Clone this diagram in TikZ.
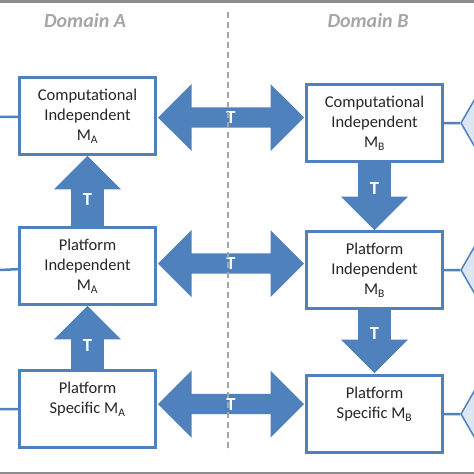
\documentclass[tikz,border=0pt]{standalone}
\usepackage{fontspec}
\setmainfont{Carlito}
\usepackage{tikz}
\usetikzlibrary{shapes,arrows,positioning}
\definecolor{mblue}{HTML}{4F81BD}
\definecolor{hexfill}{HTML}{DCE6F2}
\definecolor{dgray}{HTML}{A6A6A6}
\definecolor{bargray}{HTML}{8C8C8C}

\begin{document}
\begin{tikzpicture}[x=1pt,y=-1pt,node distance=150pt,semithick]
\tikzstyle{model}=[draw=mblue,line width=2.5pt,fill=white,minimum width=136pt,minimum height=77pt,align=center,font=\fontsize{16.5}{20}\selectfont,text=black!85,inner ysep=4pt]
\tikzstyle{twoline}=[text depth=22.4pt]
\tikzstyle{twoway}=[double arrow,fill=mblue,double arrow head extend=14.5pt,minimum width=67pt,minimum height=146pt,inner sep=0pt,text=white,font=\fontsize{18.5}{20}\selectfont\bfseries]
\tikzstyle{oneway}=[single arrow,fill=mblue,single arrow head extend=17pt,minimum width=67pt,inner xsep=11.5pt,inner ysep=0pt,text=white,font=\fontsize{18.5}{20}\selectfont\bfseries]
\tikzstyle{hexa}=[regular polygon,regular polygon sides=6,draw=mblue,fill=hexfill,line width=1.5pt,minimum size=68pt,inner sep=0pt]
\tikzstyle{link}=[draw=mblue,line width=2.5pt]
\tikzstyle{domtitle}=[text=dgray,font=\fontsize{20}{24}\selectfont\bfseries\itshape]
\useasboundingbox (0,0) rectangle (474,474);
\clip (0,0) rectangle (474,474);
\fill[bargray] (0,0) rectangle (474,2.5);
\fill[bargray] (0,471.5) rectangle (474,474);
\node[domtitle] (domA) at (85,21) {Domain A};
\node[domtitle] (domB) at (368,21) {Domain B};
\coordinate (inA) at (0,117);
\coordinate (inB) at (0,270);
\coordinate (inC) at (0,409);
\node[hexa] (hexA) at (495,123) {};
\node[hexa] (hexB) at (495,270) {};
\node[hexa] (hexC) at (495,414) {};
\node[model] (cimA) at (87.5,116) {Computational\\Independent\\M\textsubscript{A}};
\node[model][below of=cimA](pimA){Platform\\Independent\\M\textsubscript{A}};
\node[model,twoline][below of=pimA,node distance=143pt](psmA){Platform\\Specific M\textsubscript{A}};
\node[model] (cimB) at (374.5,123) {Computational\\Independent\\M\textsubscript{B}};
\node[model][below of=cimB,node distance=147pt](pimB){Platform\\Independent\\M\textsubscript{B}};
\node[model,twoline][below of=pimB,node distance=144pt](psmB){Platform\\Specific M\textsubscript{B}};
\draw[link] (inA) -- (cimA) (inB) -- (pimA) (inC) -- (psmA)
            (cimB.east) -- (hexA.west) (pimB.east) -- (hexB.west) (psmB.east) -- (hexC.west);
\node[twoway] (tCim) at (231,117.5) {T};
\node[twoway] (tPim) at (231,263.5) {T};
\node[twoway] (tPsm) at (231,404) {T};
\node[oneway,shape border rotate=90,minimum height=70pt,anchor=tail] (upA1) at (pimA.north) {T};
\node[oneway,shape border rotate=90,minimum height=63pt,anchor=tail] (upA2) at (psmA.north) {T};
\node[oneway,shape border rotate=270,minimum height=67pt,anchor=tail] (dnB1) at (cimB.south) {T};
\node[oneway,shape border rotate=270,minimum height=63pt,anchor=tail] (dnB2) at (pimB.south) {T};
\coordinate (sepTop) at (228,12);
\coordinate (sepBot) at (228,452);
\draw[dgray,line width=1.3pt,dash pattern=on 6pt off 4pt] (sepTop) -- (sepBot);
\end{tikzpicture}
\end{document}
